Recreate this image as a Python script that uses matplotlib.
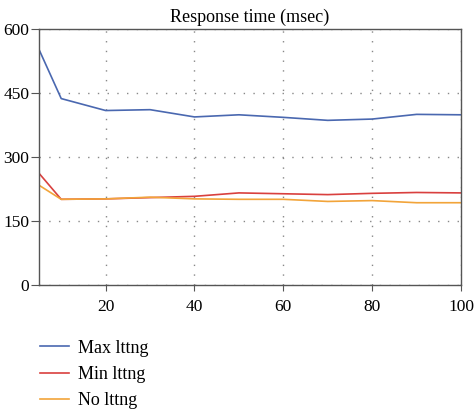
import matplotlib
matplotlib.use("Agg")
import matplotlib.pyplot as plt
from matplotlib.lines import Line2D

plt.rcParams['font.family'] = ['Liberation Serif', 'DejaVu Serif']

# x values (number of requests / load steps)
x_vals = [5, 10, 20, 30, 40, 50, 60, 70, 80, 90, 100]

# response times (msec)
max_lttng = [552, 437, 409, 411, 394, 399, 393, 386, 389, 400, 399]
min_lttng = [262, 201, 202, 205, 208, 216, 214, 212, 215, 217, 216]
no_lttng = [234, 201, 202, 206, 202, 201, 201, 196, 198, 193, 193]

series_names = ["Max lttng", "Min lttng", "No lttng"]
series_colors = ["#4a68b0", "#d9403e", "#f2a43a"]

x_ticks = [20, 40, 60, 80, 100]
y_ticks = [0, 150, 300, 450, 600]

fig = plt.figure(figsize=(4.74, 4.12), dpi=100)
ax = fig.add_axes([0.0823, 0.308, 0.8903, 0.6216])

for vals, name, col in zip([max_lttng, min_lttng, no_lttng], series_names, series_colors):
    ax.plot(x_vals, vals, color=col, linewidth=1.2, label=name)

ax.set_xlim(5, 100)
ax.set_ylim(0, 600)
ax.set_xticks(x_ticks)
ax.set_yticks(y_ticks)
ax.tick_params(axis='both', direction='out', labelsize=12.5, color='#555555')
ax.tick_params(axis='y', length=6, pad=1)
ax.tick_params(axis='x', length=4, pad=6)
ax.grid(True, linestyle=(0, (1, 6)), color='#888888', linewidth=1.0)
for s in ax.spines.values():
    s.set_color('#555555')
    s.set_linewidth(1.0)

ax.set_title("Response time (msec)", fontsize=13, pad=5)

handles = [Line2D([0], [0], color=c, linewidth=1.2) for c in series_colors]
fig.legend(handles, series_names, loc='upper left', bbox_to_anchor=(0.07, 0.193),
           frameon=False, fontsize=13, handlelength=1.6, handletextpad=0.5,
           labelspacing=0.52, borderaxespad=0)

fig.savefig("out.png", dpi=100)
